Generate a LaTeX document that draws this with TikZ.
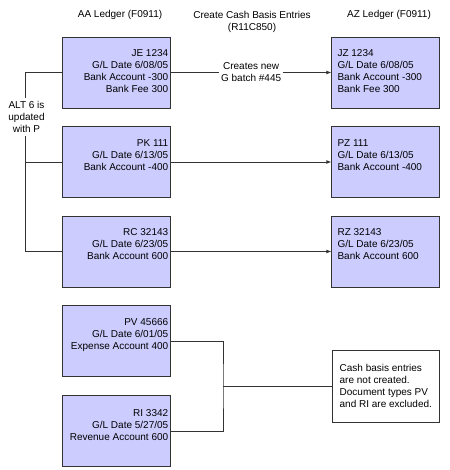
\documentclass[tikz,border=0pt]{standalone}
\usepackage{fontspec}
\setmainfont{Liberation Sans}
\usepackage{xcolor}
\usepackage{tikz}
\usetikzlibrary{arrows.meta, positioning, calc}
\definecolor{ledgerfill}{HTML}{CCCCFF}
\definecolor{edgegray}{HTML}{333333}

\begin{document}
\begin{tikzpicture}[x=1pt,y=-1pt,
  font=\fontsize{10}{12}\selectfont,
  entry/.style={draw=edgegray,fill=ledgerfill,line width=0.9pt,minimum width=108pt,minimum height=71pt,inner sep=0pt},
  lefttext/.style={anchor=north east,align=right,inner sep=0pt},
  righttext/.style={anchor=north west,align=left,inner sep=0pt},
  link/.style={draw=edgegray,line width=0.9pt},
  flow/.style={link,-{Latex[length=5pt,width=4pt]}}]
\useasboundingbox (0,0) rectangle (449,470);
% Column headings
\node (aahead) at (120,15) {AA Ledger (F0911)};
\node[align=center] (cashhead) at (252,22) {Create Cash Basis Entries\\(R11C850)};
\node (azhead) at (389,15) {AZ Ledger (F0911)};
% AA ledger entries
\node[entry] (je) at (116.5,72.5) {};
\node[entry] (pk) at (116.5,162) {};
\node[entry] (rc) at (116.5,251.5) {};
\node[entry] (pv) at (116.5,341) {};
\node[entry] (ri) at (116.5,431) {};
\node[lefttext] (jetext) at ($(je.north east)+(-2.5,12.5)$) {JE 1234\\G/L Date 6/08/05\\Bank Account -300\\Bank Fee 300};
\node[lefttext] (pktext) at ($(pk.north east)+(-2.5,13)$) {PK 111\\G/L Date 6/13/05\\Bank Account -400};
\node[lefttext] (rctext) at ($(rc.north east)+(-2.5,13)$) {RC 32143\\G/L Date 6/23/05\\Bank Account 600};
\node[lefttext] (pvtext) at ($(pv.north east)+(-2.5,13.5)$) {PV 45666\\G/L Date 6/01/05\\Expense Account 400};
\node[lefttext] (ritext) at ($(ri.north east)+(-2.5,14)$) {RI 3342\\G/L Date 5/27/05\\Revenue Account 600};
% AZ ledger entries
\node[entry] (jz) at (385.8,72.5) {};
\node[entry] (pz) at (385.8,162) {};
\node[entry] (rz) at (385.8,251.5) {};
\node[righttext] (jztext) at ($(jz.north west)+(6,12.5)$) {JZ 1234\\G/L Date 6/08/05\\Bank Account -300\\Bank Fee 300};
\node[righttext] (pztext) at ($(pz.north west)+(6,13)$) {PZ 111\\G/L Date 6/13/05\\Bank Account -400};
\node[righttext] (rztext) at ($(rz.north west)+(6,13)$) {RZ 32143\\G/L Date 6/23/05\\Bank Account 600};
% Excluded documents
\node[draw=edgegray,fill=white,line width=0.9pt,minimum width=107pt,minimum height=72pt,align=left] (note) at (385.8,386) {Cash basis entries\\are not created.\\Document types PV\\and RI are excluded.};
% Cash basis arrows
\draw[flow] (je) -- node[fill=white,align=center,inner sep=2pt] (batch) {Creates new\\G batch \#445} (jz);
\draw[flow] (pk) -- (pz);
\draw[flow] (rc) -- (rz);
% Processing option bracket
\coordinate (altbus) at (25.7,162);
\draw[link] (je.west) -| (altbus) |- (rc.west);
\draw[link] (pk.west) -- (altbus);
\node[fill=white,align=center,inner xsep=1pt,inner ysep=3pt] (alt) at (26.5,117) {ALT 6 is\\updated\\with P};
% Excluded bracket
\coordinate (joint) at (223,386);
\draw[link] (pv.east) -| (joint) |- (ri.east);
\draw[link] (joint) -- (note);
\end{tikzpicture}
\end{document}
